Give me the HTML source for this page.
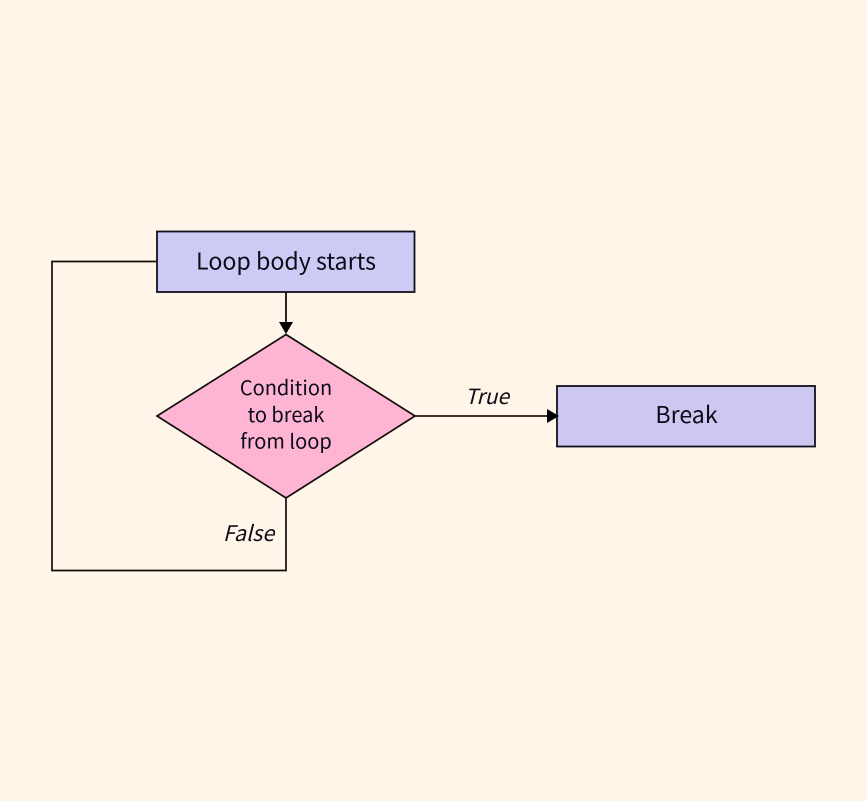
<!DOCTYPE html>
<html>
<head>
<meta charset="utf-8">
<style>
html,body{margin:0;padding:0;background:#fff5e8;}
svg{display:block;}
text{font-family:"Noto Sans CJK SC","Noto Sans CJK JP","Liberation Sans",sans-serif;fill:#0c0c16;text-anchor:middle;}
</style>
</head>
<body>
<svg width="867" height="801" viewBox="0 0 867 801" xmlns="http://www.w3.org/2000/svg">
<rect width="867" height="801" fill="#fff5e8"/>
<path d="M157 261.500H52V570.500H286V498" fill="none" stroke="#120c0a" stroke-width="1.700"/>
<path d="M286 292V324" fill="none" stroke="#120c0a" stroke-width="1.800"/>
<path d="M415 416H548" fill="none" stroke="#1e1610" stroke-width="1.800"/>
<rect x="157" y="231.500" width="257.500" height="60.500" fill="#cdcaf5" stroke="#12101f" stroke-width="1.800"/>
<rect x="557" y="386" width="258" height="60.500" fill="#cdc8f2" stroke="#12101f" stroke-width="1.800"/>
<polygon points="286,334.500 415,416 286,498 157,416" fill="#fdb5d3" stroke="#120c0a" stroke-width="1.700"/>
<polygon points="279,322 293,322 286,334" fill="#000"/>
<polygon points="547,409 559,416 547,423" fill="#000"/>
<text x="286" y="269.500" font-size="23.200">Loop body starts</text>
<text x="686.500" y="423" font-size="23.200">Break</text>
<text x="286" y="395" font-size="20">Condition</text>
<text x="286" y="422" font-size="20">to break</text>
<text x="286" y="448.500" font-size="20">from loop</text>
<text x="487" y="404" font-size="21" font-style="italic">True</text>
<text x="248.500" y="541" font-size="21.500" font-style="italic">False</text>
</svg>
</body>
</html>
